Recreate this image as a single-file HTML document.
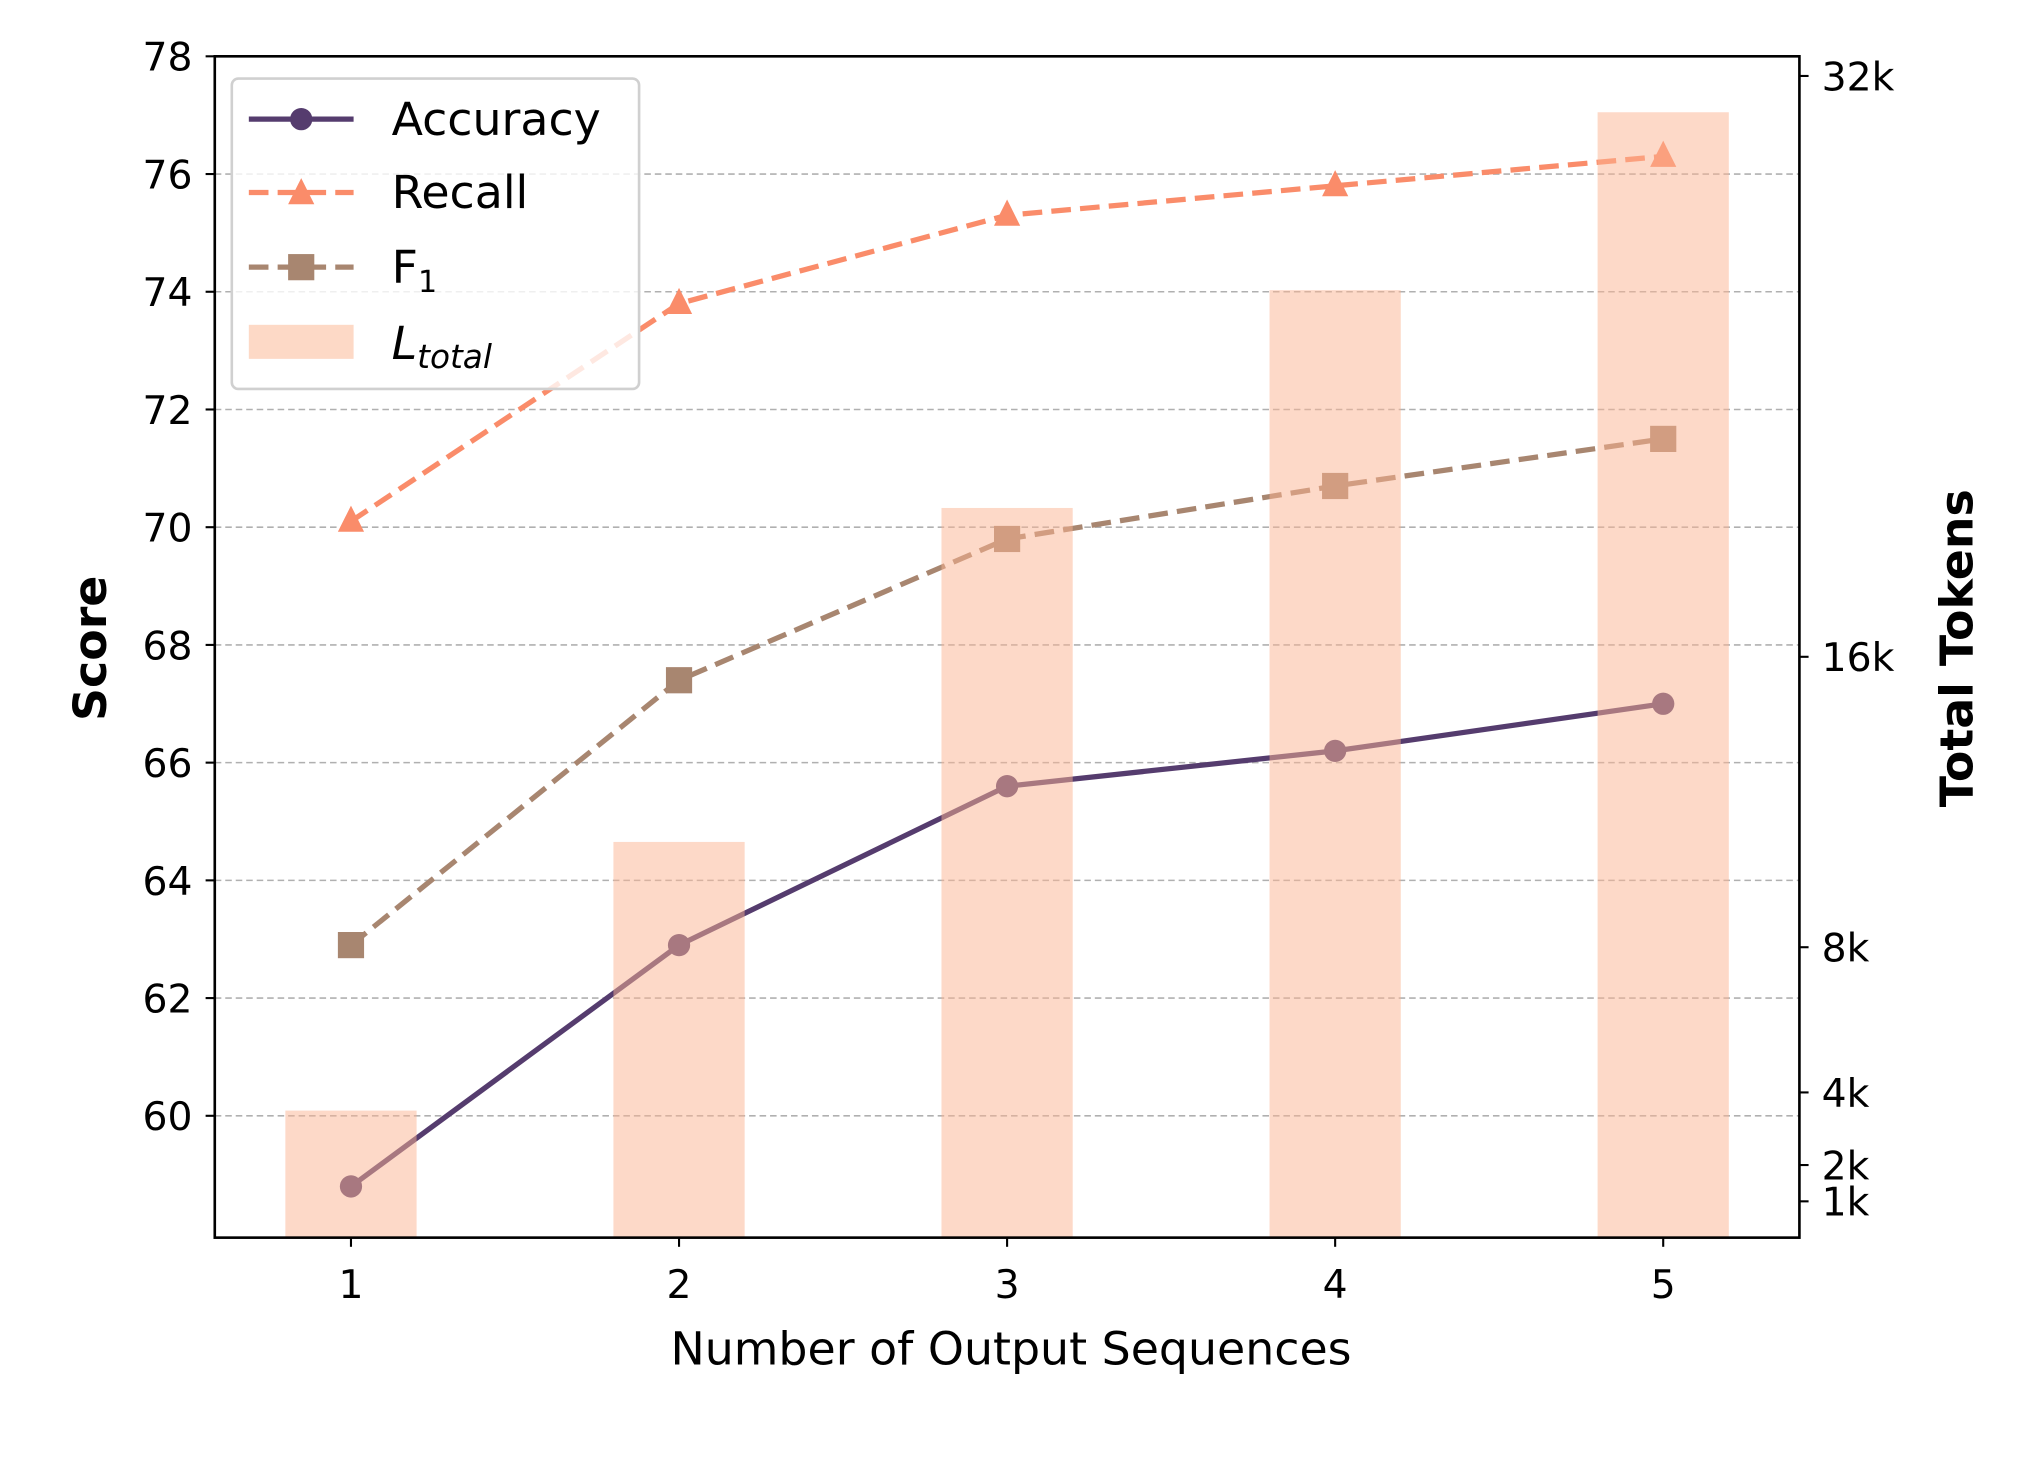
<!DOCTYPE html>
<html><head><meta charset="utf-8"><style>
html,body{margin:0;padding:0;background:#fff}
svg{display:block}
text{font-family:"DejaVu Sans","Liberation Sans",sans-serif;fill:#000}
</style></head><body>
<svg id="chart" width="2043" height="1476" viewBox="0 0 1560 1127" preserveAspectRatio="none" xmlns="http://www.w3.org/2000/svg">
<g id="grid"></g>
<g id="lines"></g>
<g id="bars"></g>
<g id="axes"></g>
<text x="772" y="1042" font-size="35" text-anchor="middle">Number of Output Sequences</text>
<text transform="translate(81,495) rotate(-90)" font-size="35" font-weight="bold" text-anchor="middle">Score</text>
<text transform="translate(1506,495) rotate(-90)" font-size="35" font-weight="bold" text-anchor="middle">Total Tokens</text>
<g>
<rect x="177" y="60" width="311" height="237" rx="5" fill="#fff" fill-opacity="0.8" stroke="#d0d0d0" stroke-width="2"/>
<g>
<line x1="190" y1="91" x2="270" y2="91" stroke="#553c6e" stroke-width="4"/><circle cx="230" cy="91" r="8.5" fill="#553c6e"/>
<text x="299" y="103" font-size="35">Accuracy</text></g>
<g>
<line x1="190" y1="147" x2="270" y2="147" stroke="#fa8c6a" stroke-width="4" stroke-dasharray="15,7"/><polygon points="230,136 220,156 240,156" fill="#fa8c6a"/>
<text x="299" y="159" font-size="35">Recall</text></g>
<g>
<line x1="190" y1="204" x2="270" y2="204" stroke="#a88670" stroke-width="4" stroke-dasharray="15,7"/><rect x="220" y="194" width="20" height="20" fill="#a88670"/>
<text x="299" y="216" font-size="35">F<tspan font-size="23" dy="7">1</tspan></text></g>
<g>
<rect x="190" y="248" width="80" height="26" fill="#fdd9c6"/>
<text x="299" y="274" font-size="35" font-style="italic">L<tspan font-size="25" dy="7">total</tspan></text></g>
</g>
</svg>
<script>
const categories=[1,2,3,4,5];
const accuracy=[58.8,62.9,65.6,66.2,67.0];
const recall=[70.1,73.8,75.3,75.8,76.3];
const f1=[62.9,67.4,69.8,70.7,71.5];
const tokensK=[3.5,10.9,20.1,26.1,31.0];
const yTicks=[60,62,64,66,68,70,72,74,76,78];
const y2Ticks=[1,2,4,8,16,32];
const y2TickLabels=["1k","2k","4k","8k","16k","32k"];

const L=164,R=1374,T=43,B=945;
const NS="http://www.w3.org/2000/svg";
const X1=268,X5=1270;
const xs=v=>X1+(v-1)*(X5-X1)/4;
const ys=v=>T+(78-v)*(B-T)/(78-57.93);
const y2s=v=>B-v*(B-58)/32;
function mk(tag,attrs,parent){const e=document.createElementNS(NS,tag);for(const k in attrs)e.setAttribute(k,attrs[k]);parent.appendChild(e);return e;}
const grid=document.getElementById('grid'),lines=document.getElementById('lines'),bars=document.getElementById('bars'),axes=document.getElementById('axes');

yTicks.forEach(v=>{
  if(v<78){const g=mk('line',{x1:L,x2:R,y1:ys(v),y2:ys(v),stroke:'#b0b0b0','stroke-width':1.2,'stroke-dasharray':'5,3'},grid);
  
  }
  const t=mk('line',{x1:L-7,x2:L,y1:ys(v),y2:ys(v),stroke:'#000','stroke-width':1.6},axes);
  
  
  const tx=mk('text',{x:L-17,y:ys(v)+11,'font-size':30,'text-anchor':'end'},axes);tx.textContent=v;
  
  
});
y2Ticks.forEach((v,i)=>{
  const t=mk('line',{x1:R,x2:R+7,y1:y2s(v),y2:y2s(v),stroke:'#000','stroke-width':1.6},axes);
  
  
  const tx=mk('text',{x:R+17,y:y2s(v)+11,'font-size':30},axes);tx.textContent=y2TickLabels[i];
  
  
});
categories.forEach(c=>{
  const t=mk('line',{x1:xs(c),x2:xs(c),y1:B,y2:B+7,stroke:'#000','stroke-width':1.6},axes);
  
  
  const tx=mk('text',{x:xs(c),y:B+46,'font-size':30,'text-anchor':'middle'},axes);tx.textContent=c;
  
  
});
const frame=mk('rect',{x:L,y:T,width:R-L,height:B-T,fill:'none',stroke:'#000','stroke-width':2},axes);



function series(vals,color,dash,marker,name){
  const pts=vals.map((v,i)=>xs(categories[i])+','+ys(v)).join(' ');
  const pl=mk('polyline',{points:pts,fill:'none',stroke:color,'stroke-width':4,'stroke-dasharray':dash},lines);
  
  
  vals.forEach((v,i)=>{
    const x=xs(categories[i]),y=ys(v);let m;
    if(marker==='circle')m=mk('circle',{cx:x,cy:y,r:8.5,fill:color},lines);
    else if(marker==='tri')m=mk('polygon',{points:`${x},${y-12} ${x-10},${y+8} ${x+10},${y+8}`,fill:color},lines);
    else m=mk('rect',{x:x-10,y:y-10,width:20,height:20,fill:color},lines);
    
    
  });
}
series(accuracy,'#553c6e','none','circle','accuracy');
series(recall,'#fa8c6a','15,7','tri','recall');
series(f1,'#a88670','15,7','sq','f1');

tokensK.forEach((v,i)=>{
  const w=(X5-X1)/4*0.4;
  const b=mk('rect',{x:xs(categories[i])-w/2,y:y2s(v),width:w,height:B-y2s(v),fill:'#fbb492','fill-opacity':0.5},bars);
  
  
});
</script>
</body></html>
